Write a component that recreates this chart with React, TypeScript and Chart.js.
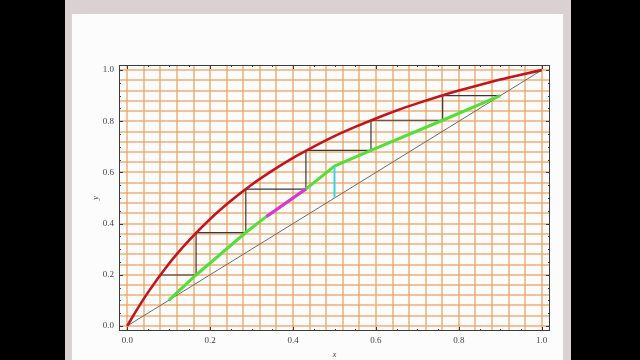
import React, { useEffect, useRef } from "react";
import { Chart, registerables } from "chart.js";

Chart.register(...registerables);

// Equilibrium curve
const eqX = [0, 0.01, 0.02, 0.05, 0.1, 0.15, 0.2, 0.25, 0.3, 0.35, 0.4, 0.45, 0.5, 0.55, 0.6, 0.65, 0.7, 0.75, 0.8, 0.85, 0.9, 0.95, 1.0];
const eqY = [0, 0.028, 0.055, 0.131, 0.242, 0.336, 0.418, 0.489, 0.552, 0.607, 0.657, 0.701, 0.742, 0.778, 0.811, 0.842, 0.87, 0.896, 0.92, 0.942, 0.963, 0.982, 1.0];

// Operating lines (stripping + rectifying)
const opX = [0.1, 0.166, 0.286, 0.336, 0.431, 0.5, 0.588, 0.761, 0.9];
const opY = [0.1, 0.199, 0.365, 0.428, 0.535, 0.625, 0.686, 0.804, 0.9];

// Highlighted segment (feed stage)
const magX = [0.336, 0.431];
const magY = [0.428, 0.535];

// Feed (q) line
const feedX = [0.5, 0.5];
const feedY = [0.5, 0.625];

// Diagonal y = x
const diagX = [0, 1];
const diagY = [0, 1];

// Staircase of stages
const stairX = [0.9, 0.761, 0.761, 0.588, 0.588, 0.431, 0.431, 0.286, 0.286, 0.166, 0.166, 0.079];
const stairY = [0.9, 0.9, 0.804, 0.804, 0.686, 0.686, 0.535, 0.535, 0.365, 0.365, 0.199, 0.199];

// Grid / ticks
const gridValues = [0, 0.04, 0.08, 0.12, 0.16, 0.2, 0.24, 0.28, 0.32, 0.36, 0.4, 0.44, 0.48, 0.52, 0.56, 0.6, 0.64, 0.68, 0.72, 0.76, 0.8, 0.84, 0.88, 0.92, 0.96, 1.0];
const majorTicks = [0, 0.2, 0.4, 0.6, 0.8, 1.0];
const tickLabels = ["0.0", "0.2", "0.4", "0.6", "0.8", "1.0"];
const minorTicks = [0.05, 0.1, 0.15, 0.25, 0.3, 0.35, 0.45, 0.5, 0.55, 0.65, 0.7, 0.75, 0.85, 0.9, 0.95];

const pts = (xs: number[], ys: number[]) => xs.map((x, i) => ({ x, y: ys[i] }));

const labelFor = (v: number) => {
  const i = majorTicks.findIndex((m) => Math.abs(m - v) < 1e-6);
  return i >= 0 ? tickLabels[i] : "";
};

const frameTicks = {
  id: "frameTicks",
  afterDraw(chart: any) {
    const { ctx, chartArea } = chart;
    const { left, right, top, bottom } = chartArea;
    const xs = chart.scales.x;
    const ys = chart.scales.y;
    ctx.save();
    ctx.strokeStyle = "#3c3c3c";
    ctx.lineWidth = 1;
    ctx.strokeRect(left + 0.5, top + 0.5, right - left - 1, bottom - top - 1);
    const draw = (vals: number[], len: number) => {
      ctx.beginPath();
      vals.forEach((v) => {
        const px = Math.round(xs.getPixelForValue(v)) + 0.5;
        ctx.moveTo(px, bottom);
        ctx.lineTo(px, bottom - len);
        ctx.moveTo(px, top);
        ctx.lineTo(px, top + len);
        const py = Math.round(ys.getPixelForValue(v)) + 0.5;
        ctx.moveTo(left, py);
        ctx.lineTo(left + len, py);
        ctx.moveTo(right, py);
        ctx.lineTo(right - len, py);
      });
      ctx.stroke();
    };
    draw(majorTicks, 4);
    draw(minorTicks, 2);
    ctx.restore();
  },
};

export default function App() {
  const ref = useRef<HTMLCanvasElement | null>(null);

  useEffect(() => {
    if (!ref.current) return;
    const font = { family: "'Liberation Serif', 'DejaVu Serif', serif", size: 9 };
    const gridColor = "rgba(236,160,92,0.62)";
    const chart = new Chart(ref.current, {
      type: "scatter",
      data: {
        datasets: [
          { label: "equilibrium", data: pts(eqX, eqY), showLine: true, borderColor: "#c2161c", borderWidth: 2.6, cubicInterpolationMode: "monotone", pointRadius: 0, order: 0 },
          { label: "feed", data: pts(feedX, feedY), showLine: true, borderColor: "#38d4e0", borderWidth: 2, pointRadius: 0, order: 1 },
          { label: "feed stage", data: pts(magX, magY), showLine: true, borderColor: "#e030e0", borderWidth: 3, pointRadius: 0, order: 2 },
          { label: "operating", data: pts(opX, opY), showLine: true, borderColor: "#52e038", borderWidth: 3, pointRadius: 0, order: 3 },
          { label: "stages", data: pts(stairX, stairY), showLine: true, borderColor: "#383838", borderWidth: 1.2, pointRadius: 0, order: 4 },
          { label: "diagonal", data: pts(diagX, diagY), showLine: true, borderColor: "#6a6a6a", borderWidth: 1, pointRadius: 0, order: 5 },
        ] as any,
      },
      options: {
        animation: false,
        responsive: false,
        maintainAspectRatio: false,
        layout: { padding: { left: 0, right: 90, top: 65, bottom: 0 } },
        plugins: { legend: { display: false }, tooltip: { enabled: false } },
        scales: {
          x: {
            type: "linear",
            min: -0.02,
            max: 1.02,
            afterBuildTicks: (scale: any) => {
              scale.ticks = gridValues.map((v) => ({ value: v }));
            },
            afterFit: (scale: any) => {
              scale.height = 29;
            },
            grid: { color: gridColor, lineWidth: 2, drawTicks: false },
            border: { display: false },
            ticks: { autoSkip: false, maxRotation: 0, padding: 4, color: "#444", font, callback: (v: any) => labelFor(Number(v)) },
            title: { display: true, text: "x", color: "#444", font: { ...font, size: 8, style: "italic" }, padding: { top: 0, bottom: 0 } },
          },
          y: {
            type: "linear",
            min: -0.02,
            max: 1.02,
            afterBuildTicks: (scale: any) => {
              scale.ticks = gridValues.map((v) => ({ value: v }));
            },
            afterFit: (scale: any) => {
              scale.width = 119;
            },
            grid: { color: gridColor, lineWidth: 2, drawTicks: false },
            border: { display: false },
            ticks: { autoSkip: false, padding: 5, color: "#444", font, callback: (v: any) => labelFor(Number(v)) },
            title: { display: true, text: "y", color: "#444", font: { ...font, size: 8, style: "italic" }, padding: { top: 91, bottom: 0 } },
          },
        },
      },
      plugins: [frameTicks],
    });
    return () => chart.destroy();
  }, []);

  return (
    <div style={{ position: "fixed", left: 0, top: 0, width: 640, height: 360, background: "#000", overflow: "hidden" }}>
      <div style={{ position: "absolute", left: 65, top: 0, width: 506, height: 360, background: "#d9d1d2" }} />
      <div style={{ position: "absolute", left: 72, top: 14, width: 491, height: 346, background: "#fdfcfd" }} />
      <canvas ref={ref} width={640} height={360} style={{ position: "absolute", left: 0, top: 0, width: 640, height: 360 }} />
    </div>
  );
}
